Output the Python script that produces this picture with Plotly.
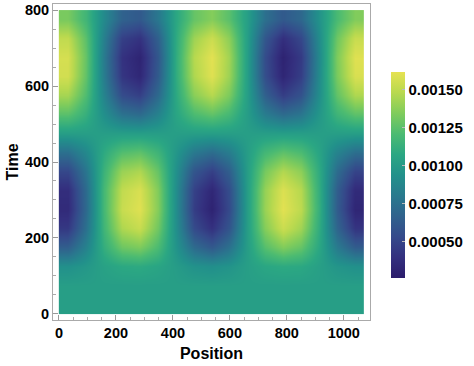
import plotly.graph_objects as go

# Cell-centre positions and times (data units)
positions = [31, 94, 157, 220, 283, 346, 409, 472, 535, 598, 661, 724, 787, 850, 913, 976, 1039]
times = [25, 75, 125, 175, 225, 275, 325, 375, 425, 475, 525, 575, 625, 675, 725, 775]

# Values (one row per time, one column per position)
z_rows = [
    [0.00102]*17,
    [0.00102]*17,
    [0.00094, 0.00098, 0.00104, 0.00108, 0.00109, 0.00106, 0.00101, 0.00095, 0.00093, 0.00096, 0.00102, 0.00107, 0.00109, 0.00108, 0.00103, 0.00097, 0.00094],
    [0.00065, 0.00085, 0.00112, 0.00130, 0.00134, 0.00121, 0.00096, 0.00072, 0.00062, 0.00075, 0.00101, 0.00124, 0.00135, 0.00128, 0.00108, 0.00081, 0.00064],
    [0.00044, 0.00075, 0.00117, 0.00146, 0.00153, 0.00131, 0.00093, 0.00054, 0.00040, 0.00059, 0.00101, 0.00136, 0.00154, 0.00143, 0.00111, 0.00069, 0.00042],
    [0.00036, 0.00071, 0.00119, 0.00153, 0.00160, 0.00136, 0.00092, 0.00047, 0.00031, 0.00053, 0.00101, 0.00141, 0.00161, 0.00150, 0.00113, 0.00064, 0.00033],
    [0.00038, 0.00072, 0.00119, 0.00151, 0.00158, 0.00135, 0.00092, 0.00049, 0.00034, 0.00055, 0.00101, 0.00140, 0.00159, 0.00148, 0.00112, 0.00065, 0.00036],
    [0.00052, 0.00078, 0.00115, 0.00141, 0.00146, 0.00128, 0.00094, 0.00060, 0.00048, 0.00065, 0.00101, 0.00132, 0.00147, 0.00138, 0.00110, 0.00073, 0.00050],
    [0.00075, 0.00089, 0.00109, 0.00123, 0.00126, 0.00116, 0.00098, 0.00080, 0.00073, 0.00082, 0.00101, 0.00118, 0.00126, 0.00121, 0.00106, 0.00086, 0.00074],
    [0.00102]*17,
    [0.00125, 0.00113, 0.00093, 0.00076, 0.00072, 0.00085, 0.00106, 0.00121, 0.00127, 0.00119, 0.00102, 0.00082, 0.00072, 0.00078, 0.00097, 0.00116, 0.00126],
    [0.00144, 0.00122, 0.00086, 0.00055, 0.00048, 0.00071, 0.00108, 0.00137, 0.00148, 0.00134, 0.00103, 0.00066, 0.00047, 0.00058, 0.00092, 0.00127, 0.00146],
    [0.00156, 0.00127, 0.00082, 0.00043, 0.00034, 0.00063, 0.00110, 0.00146, 0.00160, 0.00142, 0.00103, 0.00056, 0.00033, 0.00047, 0.00090, 0.00133, 0.00158],
    [0.00157, 0.00128, 0.00081, 0.00041, 0.00032, 0.00061, 0.00110, 0.00148, 0.00161, 0.00143, 0.00103, 0.00055, 0.00031, 0.00045, 0.00089, 0.00134, 0.00160],
    [0.00151, 0.00125, 0.00084, 0.00048, 0.00041, 0.00066, 0.00109, 0.00142, 0.00154, 0.00138, 0.00103, 0.00061, 0.00039, 0.00052, 0.00091, 0.00130, 0.00153],
    [0.00133, 0.00117, 0.00090, 0.00067, 0.00062, 0.00079, 0.00107, 0.00128, 0.00136, 0.00125, 0.00103, 0.00075, 0.00062, 0.00070, 0.00095, 0.00120, 0.00135],
]

colorbar_ticks = [0.0005, 0.00075, 0.001, 0.00125, 0.0015]
colorbar_labels = ["0.00050", "0.00075", "0.00100", "0.00125", "0.00150"]
x_ticks = [0, 200, 400, 600, 800, 1000]
y_ticks = [0, 200, 400, 600, 800]

cscale = [
    [0.0, "#2b1c6b"], [0.1, "#34307f"], [0.2, "#354a8b"], [0.3, "#30628d"],
    [0.4, "#297a8e"], [0.5, "#22918b"], [0.6, "#2ba783"], [0.7, "#4cbb72"],
    [0.8, "#80cc5c"], [0.9, "#b8d94f"], [1.0, "#e6e252"],
]

FAM = "Liberation Sans, Arial"
tick_font = dict(family=FAM, size=14.5, color="black", weight="bold")
title_font = dict(family=FAM, size=16, color="black", weight="bold")

fig = go.Figure(go.Heatmap(
    x=positions, y=times, z=z_rows, zsmooth="best",
    colorscale=cscale, zmin=0.00026, zmax=0.00162,
    colorbar=dict(
        x=1.066, xanchor="left",
        y=0.46, yanchor="middle",
        lenmode="pixels", len=206, thickness=14, outlinewidth=0,
        tickvals=colorbar_ticks, ticktext=colorbar_labels,
        ticks="inside", ticklen=3, tickcolor="#bbbbbb",
        tickfont=dict(family=FAM, size=15, color="black", weight="bold"),
        ypad=0, xpad=0,
    ),
))

axis_common = dict(
    showgrid=False, zeroline=False, showline=True, mirror=True,
    linecolor="#aaaaaa", linewidth=1, ticks="inside", ticklen=5,
    tickcolor="#999999", tickfont=tick_font, automargin=False,
    minor=dict(ticks="inside", ticklen=3, tickcolor="#aaaaaa", dtick=50),
)

fig.update_xaxes(range=[-21, 1092], tickvals=x_ticks,
                 title=dict(text="Position", font=title_font, standoff=7),
                 **axis_common)
fig.update_yaxes(range=[-16, 816], tickvals=y_ticks,
                 title=dict(text="Time", font=title_font, standoff=2),
                 **axis_common)

fig.update_layout(
    width=474, height=366,
    margin=dict(l=53, r=104, t=4, b=46, autoexpand=False),
    plot_bgcolor="white", paper_bgcolor="white",
)

fig.write_html("out.html", config={"displayModeBar": False},
               post_script="document.body.style.margin='0px';")
